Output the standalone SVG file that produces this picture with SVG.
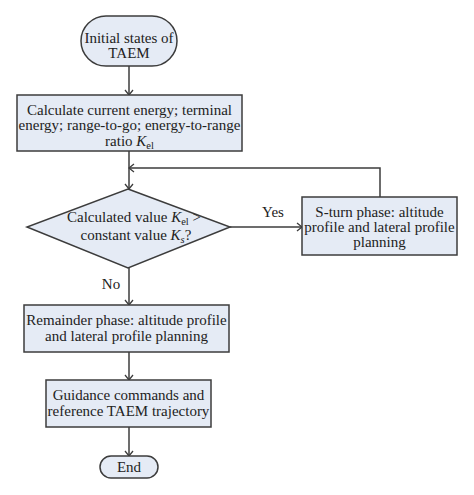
<svg xmlns="http://www.w3.org/2000/svg" width="474" height="495" viewBox="0 0 474 495">
<defs>
<style>
.n{fill:#e5ebf5;stroke:#3c3c3c;stroke-width:1.5}
.t{font-family:"Liberation Serif","Times New Roman",serif;font-size:15px;fill:#222;text-anchor:middle}
.s{font-size:10.5px}
.c{fill:none;stroke:#3c3c3c;stroke-width:1.5}
</style>
<marker id="a" markerWidth="8" markerHeight="10" refX="6" refY="5" orient="auto" markerUnits="userSpaceOnUse">
<path d="M1,1 L6,5 L1,9" fill="none" stroke="#3c3c3c" stroke-width="1.3"/>
</marker>
</defs>
<rect width="474" height="495" fill="#fff"/>
<g id="connectors">
<path class="c" d="M129,66 V95" marker-end="url(#a)"/>
<path class="c" d="M129,151 V189" marker-end="url(#a)"/>
<path class="c" d="M380,197 V168 H129" marker-end="url(#a)"/>
<path class="c" d="M230,227 H302" marker-end="url(#a)"/>
<path class="c" d="M129,268 V305" marker-end="url(#a)"/>
<path class="c" d="M129,352 V380" marker-end="url(#a)"/>
<path class="c" d="M129,427 V456" marker-end="url(#a)"/>
<text class="t" x="273" y="217">Yes</text>
<text class="t" x="111" y="289">No</text>
</g>
<g id="start">
<rect class="n" x="81" y="16" width="96" height="50" rx="25" ry="25"/>
<text class="t" x="129" y="43">Initial states of</text>
<text class="t" x="129" y="58">TAEM</text>
</g>
<g id="calc">
<rect class="n" x="17" y="95" width="225" height="56"/>
<text class="t" x="129.5" y="115">Calculate current energy; terminal</text>
<text class="t" x="129.5" y="130">energy; range-to-go; energy-to-range</text>
<text class="t" x="129.5" y="146">ratio <tspan font-style="italic">K</tspan><tspan class="s" dy="3">el</tspan></text>
</g>
<g id="decision">
<polygon class="n" points="128,189 230,227 128,268 27,227"/>
<text class="t" x="134" y="222">Calculated value <tspan font-style="italic">K</tspan><tspan class="s" dy="3">el</tspan><tspan dy="-3"> &gt;</tspan></text>
<text class="t" x="136" y="240">constant value <tspan font-style="italic">K</tspan><tspan class="s" font-style="italic" dy="3">s</tspan><tspan dy="-3">?</tspan></text>
</g>
<g id="sturn">
<rect class="n" x="302" y="197" width="155" height="58"/>
<text class="t" x="379.5" y="217">S-turn phase: altitude</text>
<text class="t" x="379.5" y="232">profile and lateral profile</text>
<text class="t" x="379.5" y="247">planning</text>
</g>
<g id="remainder">
<rect class="n" x="24" y="305" width="205" height="47"/>
<text class="t" x="126.5" y="325">Remainder phase: altitude profile</text>
<text class="t" x="126.5" y="341">and lateral profile planning</text>
</g>
<g id="guidance">
<rect class="n" x="46" y="380" width="165" height="47"/>
<text class="t" x="128.5" y="400">Guidance commands and</text>
<text class="t" x="128.5" y="416">reference TAEM trajectory</text>
</g>
<g id="end">
<rect class="n" x="100" y="456" width="58" height="22" rx="11" ry="11"/>
<text class="t" x="129" y="472">End</text>
</g>
</svg>
